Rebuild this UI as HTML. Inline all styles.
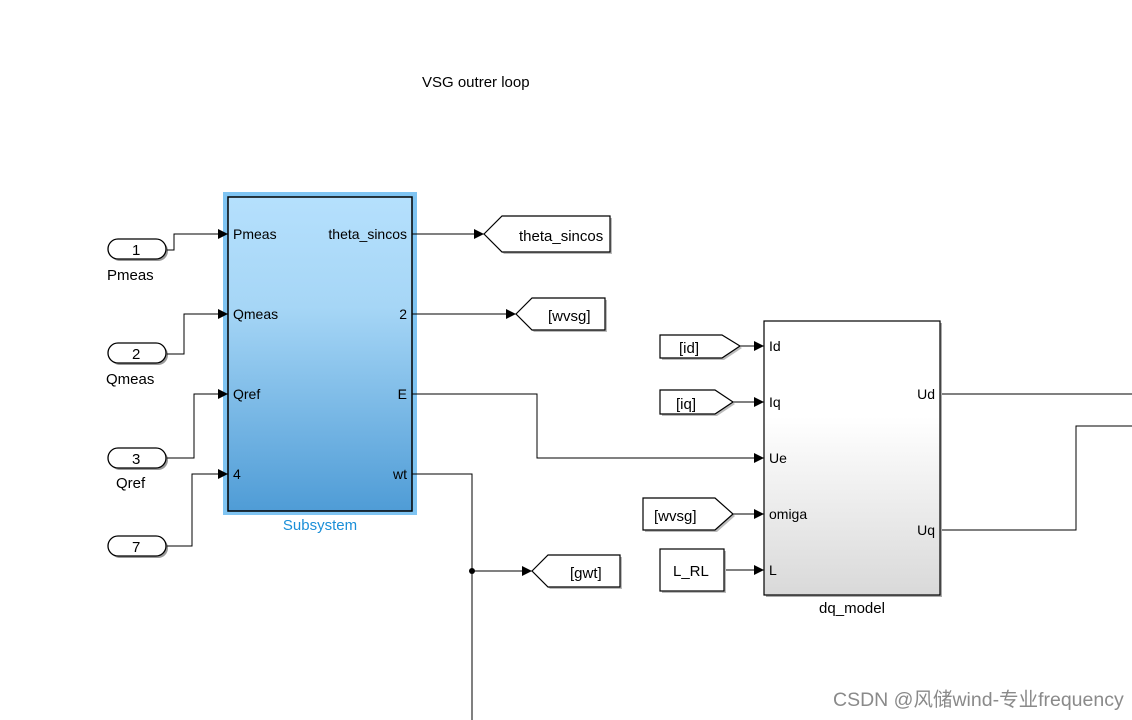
<!DOCTYPE html>
<html><head><meta charset="utf-8"><style>
html,body{margin:0;padding:0;background:#fff;}
svg{display:block;font-family:"Liberation Sans",Arial,sans-serif;}
</style></head><body>
<svg width="1132" height="720" viewBox="0 0 1132 720" xmlns="http://www.w3.org/2000/svg" font-size="14">
<defs>
<linearGradient id="bg" x1="0" y1="0" x2="0" y2="1">
<stop offset="0" stop-color="#b5e0fd"/><stop offset="0.35" stop-color="#a6d6f6"/><stop offset="1" stop-color="#4f9cd6"/>
</linearGradient>
<linearGradient id="gg" x1="0" y1="0" x2="0" y2="1">
<stop offset="0" stop-color="#ffffff"/><stop offset="0.35" stop-color="#ffffff"/><stop offset="1" stop-color="#d9d9d9"/>
</linearGradient>
<marker id="ar" markerWidth="10" markerHeight="10" refX="10" refY="5" orient="auto" markerUnits="userSpaceOnUse">
<path d="M0,0 L10,5 L0,10 Z" fill="#000"/></marker>
</defs>

<text x="422" y="87" font-size="15">VSG outrer loop</text>

<rect x="223" y="192" width="194" height="323" fill="#7fc4f2"/>
<rect x="228" y="197" width="184" height="314" fill="url(#bg)" stroke="#000" stroke-width="1.5"/>
<text x="233" y="239">Pmeas</text>
<text x="233" y="319">Qmeas</text>
<text x="233" y="399">Qref</text>
<text x="233" y="479">4</text>
<text x="407" y="239" text-anchor="end">theta_sincos</text>
<text x="407" y="319" text-anchor="end">2</text>
<text x="407" y="399" text-anchor="end">E</text>
<text x="407" y="479" text-anchor="end">wt</text>
<text x="320" y="530" text-anchor="middle" fill="#1a8fd8" font-size="15">Subsystem</text>

<g fill="#fff" stroke="#000" stroke-width="1.3">
<rect x="110" y="241" width="58" height="20" rx="10" fill="#999" stroke="none"/>
<rect x="108" y="239" width="58" height="20" rx="10"/>
<rect x="110" y="345" width="58" height="20" rx="10" fill="#999" stroke="none"/>
<rect x="108" y="343" width="58" height="20" rx="10"/>
<rect x="110" y="450" width="58" height="20" rx="10" fill="#999" stroke="none"/>
<rect x="108" y="448" width="58" height="20" rx="10"/>
<rect x="110" y="538" width="58" height="20" rx="10" fill="#999" stroke="none"/>
<rect x="108" y="536" width="58" height="20" rx="10"/>
</g>
<text x="132" y="255" font-size="15">1</text>
<text x="132" y="359" font-size="15">2</text>
<text x="132" y="464" font-size="15">3</text>
<text x="132" y="552" font-size="15">7</text>
<text x="107" y="280" font-size="15">Pmeas</text>
<text x="106" y="384" font-size="15">Qmeas</text>
<text x="116" y="488" font-size="15">Qref</text>

<g fill="none" stroke="#000" stroke-width="1">
<polyline points="167,250 174,250 174,234 228,234" marker-end="url(#ar)"/>
<polyline points="167,354 184,354 184,314 228,314" marker-end="url(#ar)"/>
<polyline points="167,458 194,458 194,394 228,394" marker-end="url(#ar)"/>
<polyline points="167,546 192,546 192,474 228,474" marker-end="url(#ar)"/>
<line x1="412" y1="234" x2="484" y2="234" marker-end="url(#ar)"/>
<line x1="412" y1="314" x2="516" y2="314" marker-end="url(#ar)"/>
<polyline points="412,394 537,394 537,458 764,458" marker-end="url(#ar)"/>
<polyline points="412,474 472,474 472,720"/>
<line x1="472" y1="571" x2="532" y2="571" marker-end="url(#ar)"/>
<line x1="740" y1="346" x2="764" y2="346" marker-end="url(#ar)"/>
<line x1="733" y1="402" x2="764" y2="402" marker-end="url(#ar)"/>
<line x1="733" y1="514" x2="764" y2="514" marker-end="url(#ar)"/>
<line x1="724" y1="570" x2="764" y2="570" marker-end="url(#ar)"/>
<line x1="940" y1="394" x2="1132" y2="394"/>
<polyline points="940,530 1076,530 1076,426 1132,426"/>
</g>
<circle cx="472" cy="571" r="3" fill="#000"/>

<g fill="#fff" stroke="#000" stroke-width="1.2">
<path d="M486,236 L504,218 L612,218 L612,254 L504,254 Z" fill="#bbb" stroke="none"/>
<path d="M484,234 L502,216 L610,216 L610,252 L502,252 Z"/>
<path d="M518,316 L534,300 L607,300 L607,332 L534,332 Z" fill="#bbb" stroke="none"/>
<path d="M516,314 L532,298 L605,298 L605,330 L532,330 Z"/>
<path d="M534,573 L550,557 L622,557 L622,589 L550,589 Z" fill="#bbb" stroke="none"/>
<path d="M532,571 L548,555 L620,555 L620,587 L548,587 Z"/>
<path d="M662,337 L724,337 L742,348 L724,360 L662,360 Z" fill="#bbb" stroke="none"/>
<path d="M660,335 L722,335 L740,346 L722,358 L660,358 Z"/>
<path d="M662,392 L717,392 L735,404 L717,416 L662,416 Z" fill="#bbb" stroke="none"/>
<path d="M660,390 L715,390 L733,402 L715,414 L660,414 Z"/>
<path d="M645,500 L717,500 L735,516 L717,532 L645,532 Z" fill="#bbb" stroke="none"/>
<path d="M643,498 L715,498 L733,514 L715,530 L643,530 Z"/>
<rect x="662" y="551" width="64" height="42" fill="#bbb" stroke="none"/>
<rect x="660" y="549" width="64" height="42"/>
</g>
<text x="519" y="241" font-size="15">theta_sincos</text>
<text x="548" y="321" font-size="15">[wvsg]</text>
<text x="570" y="578" font-size="15">[gwt]</text>
<text x="679" y="353" font-size="15">[id]</text>
<text x="676" y="409" font-size="15">[iq]</text>
<text x="654" y="521" font-size="15">[wvsg]</text>
<text x="673" y="576" font-size="15">L_RL</text>

<rect x="766" y="323" width="176" height="274" fill="#aaa"/>
<rect x="764" y="321" width="176" height="274" fill="url(#gg)" stroke="#000" stroke-width="1.2"/>
<text x="769" y="351">Id</text>
<text x="769" y="407">Iq</text>
<text x="769" y="463">Ue</text>
<text x="769" y="519">omiga</text>
<text x="769" y="575">L</text>
<text x="935" y="399" text-anchor="end">Ud</text>
<text x="935" y="535" text-anchor="end">Uq</text>
<text x="852" y="613" text-anchor="middle" font-size="15">dq_model</text>

<text x="833" y="706" font-size="19.5" fill="#8a8a8a" style="font-family:'Liberation Sans','Noto Sans CJK SC',sans-serif">CSDN @风储wind-专业frequency</text>
</svg>
</body></html>
